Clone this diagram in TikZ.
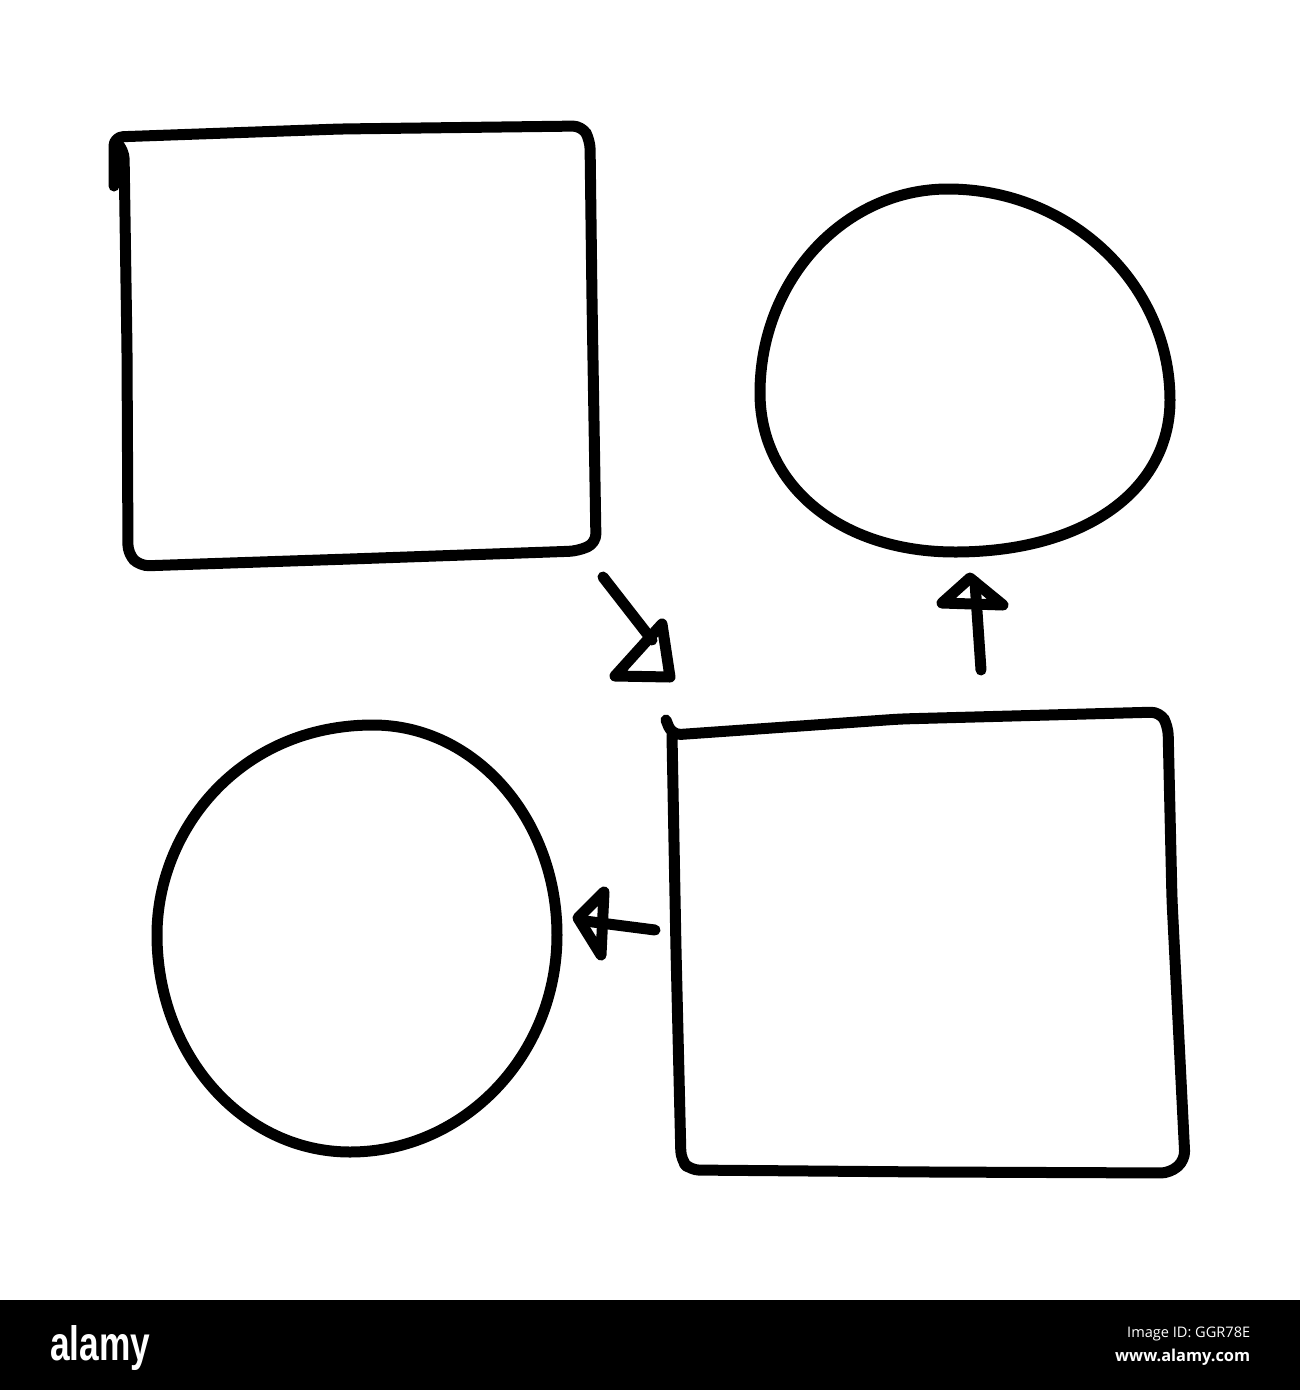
\documentclass[tikz,border=0pt]{standalone}
\usepackage{fontspec}
\setmainfont{Liberation Sans}
\newfontfamily\wmfont{Open Sans}
\begin{document}
\begin{tikzpicture}[x=1pt,y=-1pt,
  ink/.style={line width=11pt,line cap=round,line join=round,black},
  wm/.style={text=white,inner sep=0pt}]
\useasboundingbox (0,0) rectangle (1300,1390);
\fill[white] (0,0) rectangle (1300,1300);
% top-left square
\draw[ink,rounded corners=9pt] (114,186) -- (114,137) -- (340,129) -- (582,126) -- (590,140) -- (592,300) -- (596,543) -- (578,551) -- (350,559) -- (140,566) -- (128,554) -- (127,350) -- (124,150) -- (116,142);
% top-right circle
\draw[ink] (948,189) .. controls (1070,189) and (1170,284) .. (1170,400)
  .. controls (1170,490) and (1085,552) .. (955,552)
  .. controls (840,552) and (760,485) .. (760,393)
  .. controls (760,280) and (844,189) .. cycle;
% bottom-left circle
\draw[ink] (373,725) .. controls (475,725) and (557,819) .. (557,935)
  .. controls (557,1055) and (464,1152) .. (350,1152)
  .. controls (243,1152) and (157,1055) .. (157,935)
  .. controls (157,830) and (240,725) .. cycle;
% bottom-right square
\draw[ink,rounded corners=9pt] (666,720) -- (672,735) -- (900,719) -- (1160,712) -- (1168,726) -- (1172,900) -- (1185,1160) -- (1170,1173) -- (930,1172) -- (690,1170) -- (681,1160) -- (676,950) -- (672,735);
% arrow 1 (top-left square to bottom-right square)
\coordinate (a1s) at (603,577); \coordinate (a1e) at (652,640);
\draw[ink] (a1s) -- (a1e);
\draw[ink] (615,676) -- (670,677) -- (662,624) -- cycle;
% arrow 2 (bottom-right square to top-right circle)
\coordinate (a2s) at (981,670); \coordinate (a2e) at (975,582);
\draw[ink] (a2s) -- (a2e);
\draw[ink] (942,603) -- (1003,605) -- (970,578) -- cycle;
% arrow 3 (bottom-right square to bottom-left circle)
\coordinate (a3s) at (655,930); \coordinate (a3e) at (585,921);
\draw[ink] (a3s) -- (a3e);
\draw[ink] (578,918) -- (604,892) -- (601,955) -- cycle;
% watermark bar
\fill[black] (0,1300) rectangle (1300,1390);
\node[wm,anchor=north west] (logo) at (50,1325) {\resizebox*{100pt}{45pt}{\bfseries alamy}};
\node[wm,anchor=base west] (imgid) at (1127,1337) {\resizebox{123pt}{!}{\wmfont Image ID: GGR78E}};
\node[wm,anchor=base west] (url) at (1115,1361) {\resizebox{135pt}{!}{\wmfont\bfseries www.alamy.com}};
\end{tikzpicture}
\end{document}
